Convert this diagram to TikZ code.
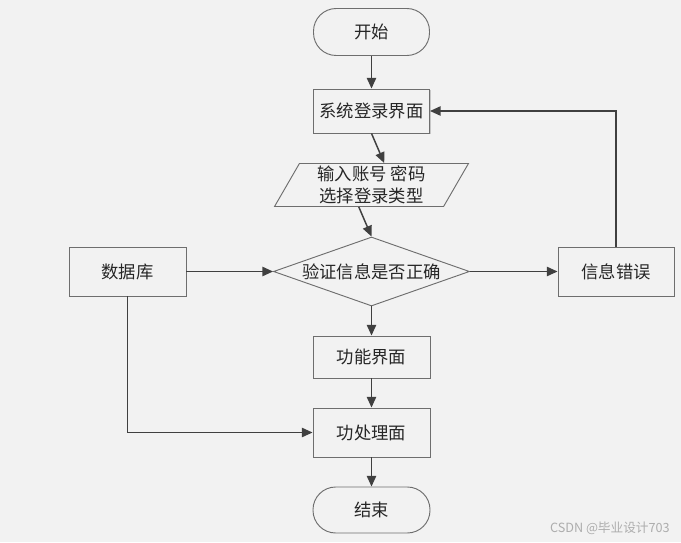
\documentclass[tikz,border=0pt]{standalone}
\usepackage{fontspec}
\setmainfont{Noto Sans CJK SC}
\usetikzlibrary{shapes.geometric,arrows.meta,shadows}
\definecolor{bg}{HTML}{F2F2F2}
\definecolor{edgec}{HTML}{404040}
\definecolor{boxc}{HTML}{6E6E6E}
\definecolor{wmc}{HTML}{ADADAD}
\tikzset{
  base/.style={draw=boxc, line width=0.7pt, fill=bg, text=black!85, font=\fontsize{13}{16.5}\selectfont, inner sep=0pt},
  procbox/.style={base, rectangle, drop shadow={shadow xshift=0.9pt, shadow yshift=-0.9pt, fill=black!22, opacity=1}},
  termbox/.style={base, rectangle, rounded corners=17pt},
  iobox/.style={base, trapezium, trapezium left angle=64, trapezium right angle=116, trapezium stretches=true, align=center},
  decbox/.style={base, diamond, aspect=2.84},
  flow/.style={draw=edgec, line width=1.1pt, -{Triangle[length=8pt,width=7pt]}}
}
\begin{document}
\begin{tikzpicture}[x=0.75pt,y=-0.75pt]
\fill[bg] (0,0) rectangle (681,542);
\useasboundingbox (0,0) rectangle (681,542);

\node[termbox, minimum width=87pt, minimum height=35.25pt] (start) at (371.5,32) {开始};
\node[procbox, minimum width=87pt, minimum height=33pt] (login) at (371.5,111) {系统登录界面};
\node[iobox, minimum width=145.5pt, minimum height=32.25pt] (input) at (371.5,185) {输入账号 密码\\选择登录类型};
\node[decbox, minimum width=147pt, minimum height=51.75pt] (check) at (371.5,271.5) {验证信息是否正确};
\node[procbox, minimum width=87.75pt, minimum height=36.75pt] (db) at (127.5,271.5) {数据库};
\node[procbox, minimum width=87pt, minimum height=36.75pt] (err) at (616,271.5) {信息错误};
\node[procbox, minimum width=87.75pt, minimum height=31.5pt] (func) at (371.5,357) {功能界面};
\node[procbox, minimum width=87.75pt, minimum height=36.75pt] (proc) at (371.5,432.5) {功处理面};
\node[termbox, minimum width=87.75pt, minimum height=34.5pt] (end) at (371.5,510) {结束};

\node[anchor=east, text=wmc, font=\fontsize{9.5}{11}\selectfont, inner sep=0pt] (wm) at (670,528) {CSDN @毕业设计703};

\draw[flow] (start) -- (login);
\draw[flow] (login.south) -- (input.top side);
\draw[flow] (input.bottom side) -- (check.north);
\draw[flow] (check.south) -- (func.north);
\draw[flow] (func) -- (proc);
\draw[flow] (proc) -- (end);
\draw[flow] (db) -- (check);
\draw[flow] (check) -- (err);
\draw[flow] (err.north) |- (login.east);
\draw[flow] (db.south) |- (proc.west);
\end{tikzpicture}
\end{document}
